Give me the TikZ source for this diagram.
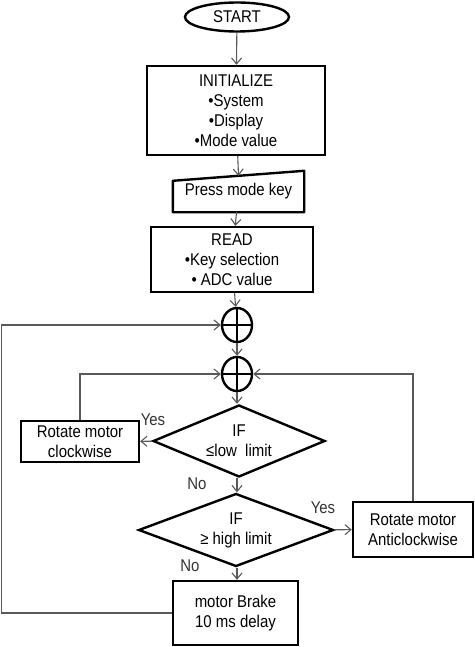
\documentclass[tikz,border=0pt]{standalone}
\usepackage{fontspec}
\setmainfont{Liberation Sans}[FakeStretch=0.88]
\usetikzlibrary{shapes.geometric,arrows.meta}

\begin{document}
\begin{tikzpicture}[x=1pt,y=-1pt,
  every node/.style={font=\fontsize{17}{20}\selectfont,align=center,inner sep=0pt},
  box/.style={draw=black,line width=2.4pt,rectangle},
  cond/.style={draw=black,line width=2.4pt,diamond},
  junction/.style={draw=black,line width=2.4pt,ellipse,minimum width=30pt,minimum height=34pt},
  flow/.style={draw=black!65,line width=1.1pt,-{Straight Barb[length=6pt,width=10pt]}},
  lbl/.style={text=black!80}
]
\useasboundingbox (0,0) rectangle (474,647);

% blocks of the chart
\node[draw=black,line width=2.4pt,ellipse,minimum width=104pt,minimum height=29pt] (start) at (237,17) {START};
\node[box,minimum width=178pt,minimum height=89pt] (init) at (236,110.5)
  {INITIALIZE\\•System\\•Display\\•Mode value};
\node[minimum width=131pt,minimum height=41pt] (press) at (238.5,191.5) {\raisebox{-3pt}{Press mode key}};
\draw[line width=2.4pt,line join=round] (press.south west) -- (press.south east)
  -- (press.north east) -- ([yshift=-10pt]press.north west) -- cycle;
\node[box,minimum width=162pt,minimum height=65pt] (read) at (232,259.5)
  {READ\\•Key selection\\• ADC value};
\node[junction] (j1) at (237,325) {};
\node[junction] (j2) at (237,374) {};
\foreach \j in {j1,j2}{
  \draw[line width=2.4pt] (\j.north) -- (\j.south) (\j.west) -- (\j.east);
}
% decisions (text set on top of the empty diamonds)
\node[cond,aspect=2.4,minimum width=172pt,minimum height=72pt] (low) at (239,441) {};
\node (lowtxt) at (low) {IF\\≤low\ \ limit};
\node[cond,aspect=2.67,minimum width=195pt,minimum height=73pt] (high) at (236,530) {};
\node (hightxt) at (high) {IF\\≥ high limit};
\node[box,minimum width=118pt,minimum height=41pt] (cw) at (80,441.5) {Rotate motor\\clockwise};
\node[box,minimum width=120pt,minimum height=55pt] (acw) at (413,529.5) {Rotate motor\\Anticlockwise};
\node[box,minimum width=125pt,minimum height=64pt] (brake) at (235.5,613) {motor Brake\\10 ms delay};

% main path
\draw[flow] (start) -- (init);
\draw[flow] (init) -- ([yshift=-5pt]press.north);
\draw[flow] (press) -- (read);
\draw[flow] (read) -- (j1);
\draw[flow] (j1) -- (j2);
\draw[flow] (j2.south) -- (low.north -| j2.south);
\draw[flow] (low) -- (cw);
\draw[flow] (low.south -| j2.south) -- (high.north -| j2.south);
\draw[flow] (high) -- (acw);
\draw[flow] (high.south -| j2.south) -- (brake.north -| j2.south);

% feedback lines
\draw[flow] (brake.west) -- ++(-170,0) |- (j1.west);
\draw[flow] (cw.north) |- (j2.west);
\draw[flow] (acw.north) |- (j2.east);

% branch labels
\node[lbl] (yes1) at (153,420) {Yes};
\node[lbl] (no1) at (197,484) {No};
\node[lbl] (yes2) at (323,508) {Yes};
\node[lbl] (no2) at (190,566) {No};

\end{tikzpicture}
\end{document}
